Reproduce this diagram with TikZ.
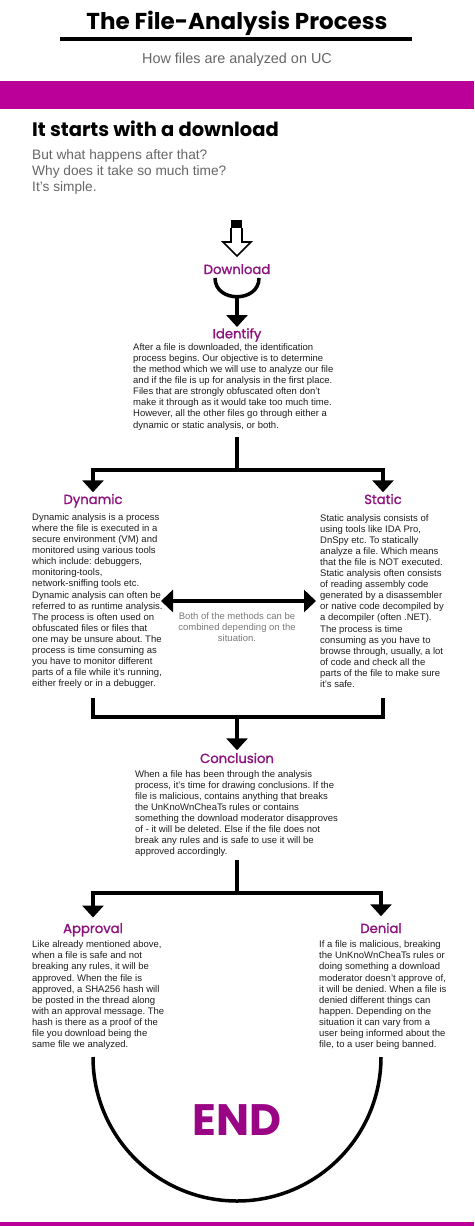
\documentclass[tikz,border=0pt]{standalone}
\usepackage{fontspec}
\setmainfont{Liberation Sans}
\newfontfamily\headfont{Poppins}
\newfontfamily\stagefont{Poppins}[FakeBold=1.4]
\usetikzlibrary{arrows.meta}
\definecolor{bandpink}{HTML}{BB0099}
\definecolor{stagepurple}{HTML}{8E137F}
\definecolor{endpurple}{HTML}{9A0585}
\definecolor{bodyblack}{HTML}{1E1E1E}
\definecolor{introgray}{HTML}{666666}
\definecolor{notegray}{HTML}{7A7A7A}
\frenchspacing

\begin{document}
\begin{tikzpicture}[x=1pt,y=-1pt,
  conn/.style={line width=3.5pt},
  arr/.style={conn,-{Triangle[width=21pt,length=12pt]}},
  dblarr/.style={conn,{Triangle[width=22pt,length=12pt]}-{Triangle[width=22pt,length=12pt]}},
  stage/.style={anchor=base,inner sep=0pt,text=stagepurple,font=\stagefont\fontsize{13.2}{16}\selectfont},
  body/.style={anchor=north west,inner sep=0pt,align=left,text=bodyblack,font=\fontsize{9.5}{11.1}\selectfont}]
\useasboundingbox (0,0) rectangle (474,1226);

\node[anchor=base,inner sep=0pt,font=\headfont\bfseries\fontsize{23}{28}\selectfont] (title) at (237,29.3) {The File-Analysis Process};
\draw[line width=3.7pt] (60,39) -- (412,39);
\node[anchor=base,inner sep=0pt,text=introgray,font=\fontsize{14.4}{17}\selectfont] (sub) at (237,63.3) {How files are analyzed on UC};
\fill[bandpink] (0,81) rectangle (474,109);

\node[anchor=base west,inner sep=0pt,font=\headfont\bfseries\fontsize{19.5}{24}\selectfont] (intro) at (32,136.7) {It starts with a download};
\node[anchor=north west,inner sep=0pt,align=left,text=introgray,font=\fontsize{13.7}{16.3}\selectfont] (why) at (32,149) {But what happens after that?\\Why does it take so much time?\\It's simple.};

\fill (231,220) rectangle (242,228);
\draw[line width=1.7pt,line join=miter] (231,228) -- (231,242) -- (223,242) -- (237,256) -- (251,242) -- (242,242) -- (242,228);

\node[stage] (dl) at (237,274) {Download};
\draw[conn] (215,278) .. controls (215,303) and (259,303) .. (259,278);
\coordinate (ub) at (237,297);
\node[stage] (idf) at (237,338.3) {Identify};
\draw[arr] (ub) -- ([yshift=1pt]idf.north);

\node[body] (idtxt) at (133,343.3) {After a file is downloaded, the identification\\process begins. Our objective is to determine\\the method which we will use to analyze our file\\and if the file is up for analysis in the first place.\\Files that are strongly obfuscated often don't\\make it through as it would take too much time.\\However, all the other files go through either a\\dynamic or static analysis, or both.};

\coordinate (idb) at (237,437);
\coordinate (split) at (237,470);
\node[stage] (dyn) at (93,504) {Dynamic};
\node[stage] (sta) at (383,504) {Static};
\draw[conn] (idb) -- (split);
\draw[arr] (split) -| ([yshift=1.5pt]dyn.north);
\draw[arr] (split) -| ([yshift=1.5pt]sta.north);

\node[body] (dyntxt) at (32,513.3) {Dynamic analysis is a process\\where the file is executed in a\\secure environment (VM) and\\monitored using various tools\\which include: debuggers,\\monitoring-tools,\\network-sniffing tools etc.\\Dynamic analysis can often be\\referred to as runtime analysis.\\The process is often used on\\obfuscated files or files that\\one may be unsure about. The\\process is time consuming as\\you have to monitor different\\parts of a file while it's running,\\either freely or in a debugger.};
\node[body] (statxt) at (320,514) {Static analysis consists of\\using tools like IDA Pro,\\DnSpy etc. To statically\\analyze a file. Which means\\that the file is NOT executed.\\Static analysis often consists\\of reading assembly code\\generated by a disassembler\\or native code decompiled by\\a decompiler (often .NET).\\The process is time\\consuming as you have to\\browse through, usually, a lot\\of code and check all the\\parts of the file to make sure\\it's safe.};

\coordinate (bl) at (161,601);
\coordinate (br) at (316,601);
\draw[dblarr] (bl) -- (br);
\node[anchor=north,inner sep=0pt,align=center,text=notegray,font=\fontsize{9.5}{11.1}\selectfont] (both) at (237,612.5) {Both of the methods can be\\combined depending on the\\situation.};

\coordinate (dynb) at (93,698);
\coordinate (stab) at (383,698);
\coordinate (merge) at (237,717);
\node[stage] (conc) at (237,763) {Conclusion};
\draw[conn] (dynb) |- (merge) -| (stab);
\draw[arr] (merge) -- ([yshift=2.5pt]conc.north);

\node[body] (conctxt) at (135,770) {When a file has been through the analysis\\process, it's time for drawing conclusions. If the\\file is malicious, contains anything that breaks\\the UnKnoWnCheaTs rules or contains\\something the download moderator disapproves\\of - it will be deleted. Else if the file does not\\break any rules and is safe to use it will be\\approved accordingly.};

\coordinate (concb) at (237,860);
\coordinate (fork) at (237,893);
\node[stage] (apr) at (93,933) {Approval};
\node[stage] (den) at (381,933) {Denial};
\draw[conn] (concb) -- (fork);
\draw[arr] (fork) -| ([yshift=5.5pt]apr.north);
\draw[arr] (fork) -| ([yshift=6.5pt]den.north);

\node[body] (aprtxt) at (32,940.7) {Like already mentioned above,\\when a file is safe and not\\breaking any rules, it will be\\approved. When the file is\\approved, a SHA256 hash will\\be posted in the thread along\\with an approval message. The\\hash is there as a proof of the\\file you download being the\\same file we analyzed.};
\node[body] (dentxt) at (319,940.7) {If a file is malicious, breaking\\the UnKnoWnCheaTs rules or\\doing something a download\\moderator doesn't approve of,\\it will be denied. When a file is\\denied different things can\\happen. Depending on the\\situation it can vary from a\\user being informed about the\\file, to a user being banned.};

\coordinate (aprb) at (93,1057);
\coordinate (denb) at (381,1057);
\coordinate (endb) at (237,1201);
\draw[conn] (aprb) .. controls (93,1136.5) and (157.5,1201) .. (endb) .. controls (316.5,1201) and (381,1136.5) .. (denb);
\node[anchor=base,inner sep=0pt,text=endpurple,font=\headfont\bfseries\fontsize{44}{50}\selectfont] (end) at (237,1135) {END};

\fill[bandpink] (0,1222) rectangle (474,1225.5);
\end{tikzpicture}
\end{document}
